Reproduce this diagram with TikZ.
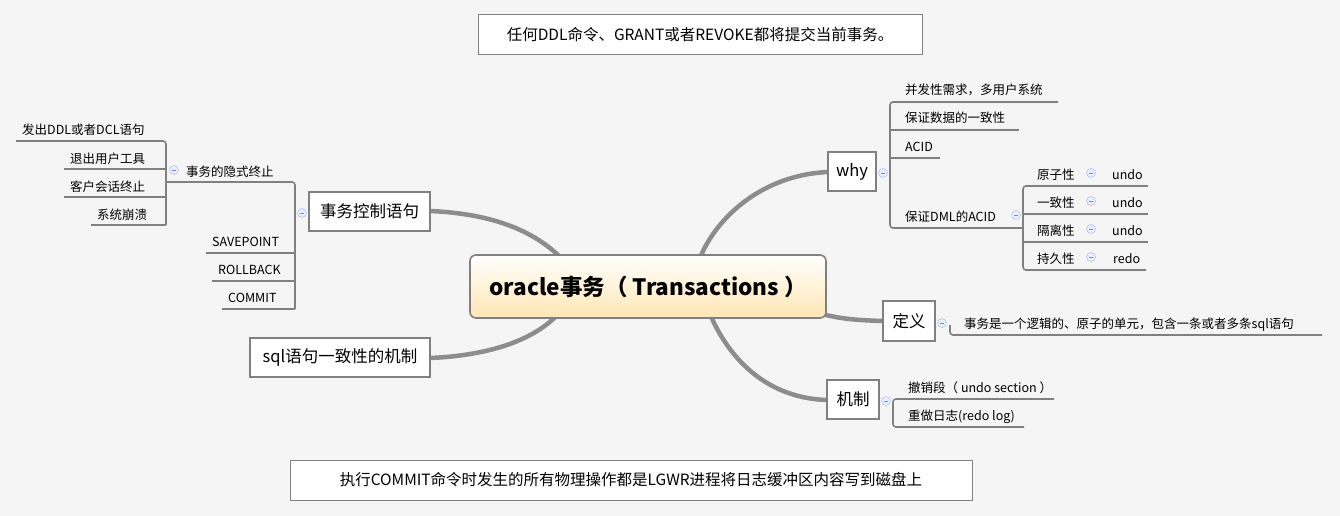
\documentclass[tikz,border=0pt]{standalone}
\usepackage{fontspec}
\setmainfont{Noto Sans CJK SC}
\usetikzlibrary{positioning}
\definecolor{bgcol}{HTML}{F5F5F5}
\definecolor{linecol}{HTML}{808080}
\definecolor{iconcol}{HTML}{C9D9F2}
\tikzset{
  topic/.style={draw=linecol, line width=1.6pt, fill=white, inner sep=0pt, font=\fontsize{16.5}{18}\selectfont},
  note/.style={draw=linecol, line width=1pt, fill=white, inner sep=0pt, font=\fontsize{15.5}{18}\selectfont},
  leaf/.style={inner sep=0pt, anchor=base west, font=\fontsize{12.5}{14}\selectfont},
  branch/.style={draw=linecol, line width=1.6pt, rounded corners=3pt},
  trunk/.style={draw=linecol!90, line width=4.5pt, line cap=round},
  fold/.style={circle, draw=iconcol!80!blue, fill=iconcol!40, minimum size=9pt, inner sep=0pt,
    path picture={\draw[iconcol!60!blue, line width=0.6pt] ([xshift=-2pt]path picture bounding box.center) -- ([xshift=2pt]path picture bounding box.center);}}
}
\begin{document}
\begin{tikzpicture}[x=1pt,y=-1pt]
\fill[bgcol] (0,0) rectangle (1340,516);
\useasboundingbox (0,0) rectangle (1340,516);
% notes
\node[note, minimum width=444pt, minimum height=40pt] (ddlnote) at (700,35) {任何DDL命令、GRANT或者REVOKE都将提交当前事务。};
\node[note, minimum width=682pt, minimum height=40pt] (lgwrnote) at (631,480) {执行COMMIT命令时发生的所有物理操作都是LGWR进程将日志缓冲区内容写到磁盘上};
% trunks
\draw[trunk] (430,211) .. controls (500,214) and (540,235) .. (565,262);
\draw[trunk] (430,358) .. controls (500,355) and (540,335) .. (560,312);
\draw[trunk] (828,172) .. controls (760,175) and (715,220) .. (700,258);
\draw[trunk] (883,321) .. controls (850,320) and (835,318) .. (815,312);
\draw[trunk] (827,400) .. controls (760,398) and (725,350) .. (710,314);
% central
\node[draw=linecol, line width=1.6pt, rounded corners=6pt, top color=white, bottom color=yellow!35!orange!30,
  minimum width=356pt, minimum height=63pt, font=\fontsize{22.5}{24}\bfseries\selectfont] (root) at (648,286.5) {oracle事务（ Transactions ）};
% main topics
\node[topic, minimum width=121pt, minimum height=39pt] (ctrl) at (369.5,211.5) {事务控制语句};
\node[topic, minimum width=180pt, minimum height=39pt] (sql) at (340,357.5) {sql语句一致性的机制};
\node[topic, minimum width=48pt, minimum height=39pt] (why) at (852,171.5) {why};
\node[topic, minimum width=52pt, minimum height=40pt] (defn) at (909,321) {定义};
\node[topic, minimum width=52pt, minimum height=39pt] (mech) at (853,399.5) {机制};
% ctrl children
\node[fold] (fctrl) at (302,213) {};
\draw[branch] (166,182) -- (295,182) -- (295,309);
\foreach \txt/\y/\x in {SAVEPOINT/253/206, ROLLBACK/281/212, COMMIT/309/222}
  \draw[branch] (\x,\y) -- (295,\y);
\node[leaf] (implicit) at (186,176) {事务的隐式终止};
\node[leaf] (savept) at (212,246) {SAVEPOINT};
\node[leaf] (rollbk) at (218,274) {ROLLBACK};
\node[leaf] (commit) at (228,302) {COMMIT};
\node[fold] (fimpl) at (174,170) {};
\draw[branch] (16,141) -- (166,141) -- (166,225);
\foreach \y/\x in {169/64, 197/64, 225/91}
  \draw[branch] (\x,\y) -- (166,\y);
\node[leaf] (ddl) at (22,135) {发出DDL或者DCL语句};
\node[leaf] (quit) at (70,163) {退出用户工具};
\node[leaf] (sess) at (70,191) {客户会话终止};
\node[leaf] (crash) at (97,219) {系统崩溃};
% why children
\node[fold] (fwhy) at (883,173) {};
\draw[branch] (1058,102) -- (890,102) -- (890,228) -- (1023,228);
\draw[branch] (890,130) -- (1019,130);
\draw[branch] (890,158) -- (940,158);
\node[leaf] (conc) at (905,95) {并发性需求，多用户系统};
\node[leaf] (cons) at (905,123) {保证数据的一致性};
\node[leaf] (acid) at (905,151) {ACID};
\node[leaf] (dml) at (905,221) {保证DML的ACID};
\node[fold] (fdml) at (1016,215) {};
\draw[branch] (1148,186) -- (1023,186) -- (1023,270) -- (1146,270);
\foreach \y in {214,242} \draw[branch] (1023,\y) -- (1148,\y);
\foreach \name/\y/\w in {atom/186/undo, consist/214/undo, isol/242/undo, dura/270/redo}
  \node[fold] (f\name) at (1091,\y-13) {};
\node[leaf] (atom) at (1037,179) {原子性};
\node[leaf] (consist) at (1037,207) {一致性};
\node[leaf] (isol) at (1037,235) {隔离性};
\node[leaf] (dura) at (1037,263) {持久性};
\node[leaf] (u1) at (1112,179) {undo};
\node[leaf] (u2) at (1112,207) {undo};
\node[leaf] (u3) at (1112,235) {undo};
\node[leaf] (r4) at (1113,263) {redo};
% definition
\node[fold] (fdef) at (942,323) {};
\draw[branch] (950,325) -- (950,335) -- (1322,335);
\node[leaf] (deftxt) at (964,328) {事务是一个逻辑的、原子的单元，包含一条或者多条sql语句};
% mechanism
\node[fold] (fmech) at (886,401) {};
\draw[branch] (1054,399) -- (893,399) -- (893,427) -- (1024,427);
\node[leaf] (undoseg) at (908,392) {撤销段（ undo section ）};
\node[leaf] (redolog) at (908,420) {重做日志(redo log)};
\end{tikzpicture}
\end{document}
